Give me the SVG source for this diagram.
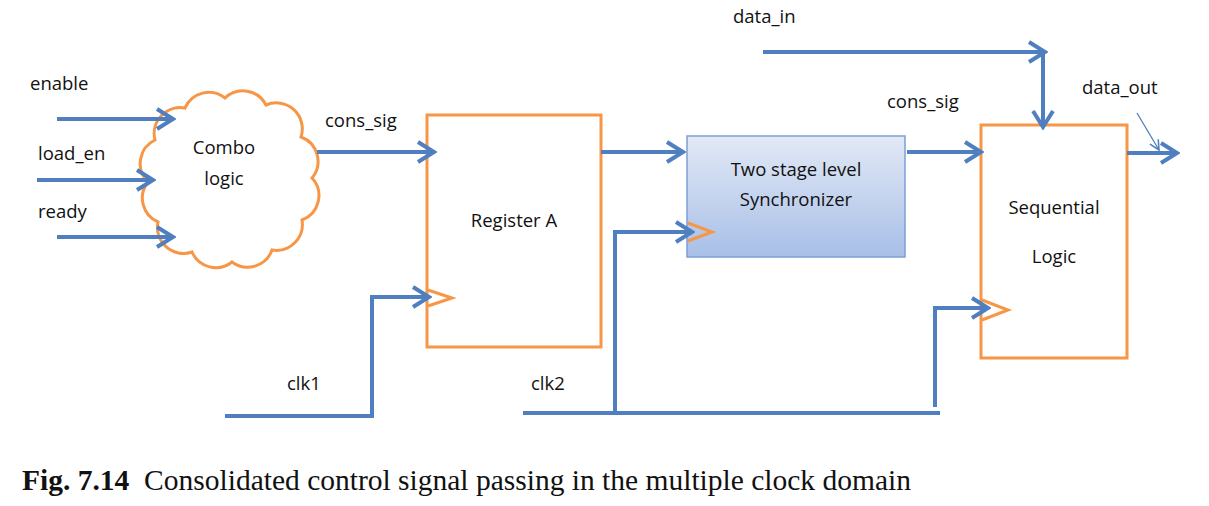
<svg xmlns="http://www.w3.org/2000/svg" width="1209" height="506" viewBox="0 0 1209 506">
<style>
.w{stroke:#4f7fbf;stroke-width:4;fill:none}
.o{stroke:#f79646;stroke-width:3;fill:#fff}
.t{font-family:"Open Sans","Liberation Sans",sans-serif;font-size:18.5px;fill:#111}
.c{text-anchor:middle}
</style>
<defs>
<marker id="h" viewBox="0 0 22 24" refX="19" refY="12" markerWidth="22" markerHeight="24" orient="auto" markerUnits="userSpaceOnUse">
<path d="M3,2 L19,12 L3,22" fill="none" stroke="#4f7fbf" stroke-width="4"/>
</marker>
<marker id="s" viewBox="0 0 10 10" refX="9" refY="5" markerWidth="12" markerHeight="12" orient="auto" markerUnits="userSpaceOnUse">
<path d="M1,1 L9,5 L1,9" fill="none" stroke="#4f7fbf" stroke-width="1.3"/>
</marker>
<linearGradient id="g" x1="0" y1="0" x2="0" y2="1">
<stop offset="0" stop-color="#e2e9f6"/><stop offset="1" stop-color="#a8bfe7"/>
</linearGradient>
</defs>
<g id="combo">
<path class="o" d="M312,178 A26,26 0 0 0 301,137 A26,26 0 0 0 266,105 A26,26 0 0 0 225,98 A26,26 0 0 0 185,108 A26,26 0 0 0 155,140 A26,26 0 0 0 148,182 A26,26 0 0 0 158,222 A26,26 0 0 0 192,252 A26,26 0 0 0 232,262 A26,26 0 0 0 272,250 A26,26 0 0 0 302,220 A26,26 0 0 0 312,178 Z"/>
<text class="t c" x="224" y="154">Combo</text>
<text class="t c" x="224" y="185">logic</text>
</g>
<g id="regA">
<rect class="o" x="427" y="115" width="174" height="232"/>
<path d="M428,290 L452,298 L428,306" fill="none" stroke="#f79646" stroke-width="3"/>
<text class="t c" x="514" y="227">Register A</text>
</g>
<g id="sync">
<rect x="687" y="136" width="218" height="121" fill="url(#g)" stroke="#7c9fd3" stroke-width="1.5"/>
<text class="t c" x="796" y="176">Two stage level</text>
<text class="t c" x="796" y="206">Synchronizer</text>
</g>
<g id="seq">
<rect class="o" x="981" y="125" width="146" height="233"/>
<text class="t c" x="1054" y="214">Sequential</text>
<text class="t c" x="1054" y="263">Logic</text>
</g>
<g id="connectors">
<path class="w" marker-end="url(#h)" d="M57,119 H173"/>
<path class="w" marker-end="url(#h)" d="M37,180 H153"/>
<path class="w" marker-end="url(#h)" d="M57,237 H173"/>
<path class="w" marker-end="url(#h)" d="M317,152 H434"/>
<path class="w" marker-end="url(#h)" d="M601,152 H683"/>
<path class="w" marker-end="url(#h)" d="M907,152 H981"/>
<path class="w" marker-end="url(#h)" d="M1127,153 H1177"/>
<path class="w" marker-end="url(#h)" d="M763,52 H1045"/>
<path class="w" marker-end="url(#h)" d="M1043,52 V127"/>
<path class="w" marker-end="url(#h)" d="M225,416 H372 V297 H429"/>
<path class="w" d="M523,413 H940"/>
<path class="w" marker-end="url(#h)" d="M615,413 V232 H692"/>
<path class="w" marker-end="url(#h)" d="M935,407 V308 H988"/>
<path d="M1137,113 L1159,150" stroke="#4f7fbf" stroke-width="1.3" fill="none" marker-end="url(#s)"/>
</g>
<g id="clocks">
<path d="M688,223 L712,232 L688,241" fill="none" stroke="#f79646" stroke-width="3"/>
<path d="M982,300 L1008,310 L982,320" fill="none" stroke="#f79646" stroke-width="3"/>
</g>
<g id="labels">
<text class="t" x="30" y="90">enable</text>
<text class="t" x="38" y="160">load_en</text>
<text class="t" x="38" y="218">ready</text>
<text class="t" x="325" y="127">cons_sig</text>
<text class="t" x="733" y="23">data_in</text>
<text class="t" x="887" y="108">cons_sig</text>
<text class="t" x="1082" y="94">data_out</text>
<text class="t" x="287" y="390">clk1</text>
<text class="t" x="531" y="390">clk2</text>
</g>
<text x="22" y="490" font-family="Liberation Serif,serif" font-size="29.5" fill="#111" xml:space="preserve"><tspan font-weight="bold">Fig. 7.14</tspan>  Consolidated control signal passing in the multiple clock domain</text>
</svg>
